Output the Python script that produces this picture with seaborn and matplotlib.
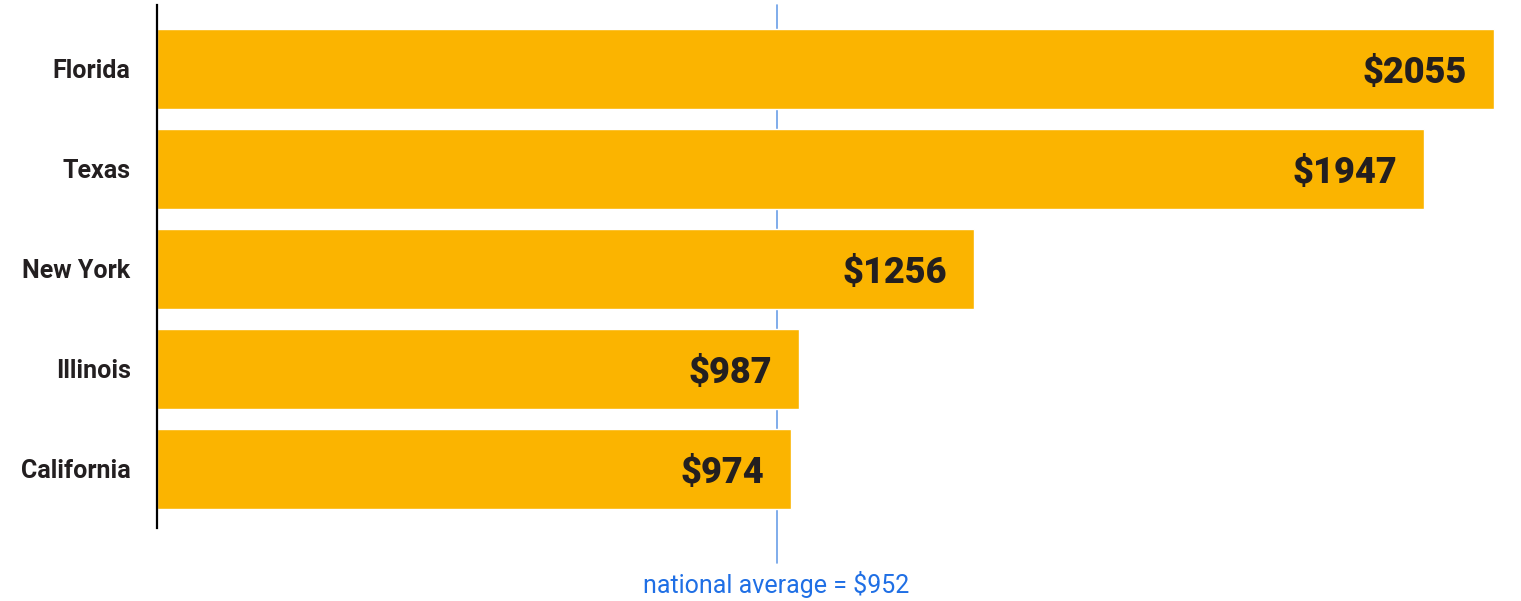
import matplotlib
matplotlib.use('Agg')
import pandas as pd
import seaborn as sns
import matplotlib.pyplot as plt

states = ['Florida', 'Texas', 'New York', 'Illinois', 'California']
costs = [2055, 1947, 1256, 987, 974]
national_avg = 952

df = pd.DataFrame({'state': states, 'cost': costs})

sns.set_theme(style='white')
plt.rcParams['font.family'] = ['Roboto', 'DejaVu Sans']

fig = plt.figure(figsize=(15.21, 6.01), dpi=100)
ax = fig.add_axes([157 / 1521, (601 - 528) / 601, (1521 - 157) / 1521, 523 / 601])

ax.axvline(national_avg, ymin=-0.067, ymax=1, color='#6a9ee8', lw=1.2, clip_on=False, zorder=0)
sns.barplot(data=df, x='cost', y='state', color='#fbb400', saturation=1, width=0.8, ax=ax, zorder=2)

for i, v in enumerate(costs):
    ax.annotate(f'${v}', xy=(v, i), xytext=(-19.5, -3), textcoords='offset points',
                ha='right', va='center', fontsize=26, fontweight='black', color='#231f20', zorder=3)

ax.annotate(f'national average = ${national_avg}', xy=(national_avg, 0), xycoords=('data', 'axes fraction'),
            xytext=(0, -40.5), textcoords='offset points', ha='center', va='center',
            fontsize=18, color='#1f6fe5', annotation_clip=False)

ax.set_xlim(0, 2096)
ax.set_ylim(4.595, -0.635)
ax.set_xlabel('')
ax.set_ylabel('')
ax.set_xticks([])
for s in ['top', 'right', 'bottom']:
    ax.spines[s].set_visible(False)
ax.spines['left'].set_color('black')
ax.spines['left'].set_linewidth(1.6)
ax.tick_params(axis='y', length=0, pad=19)
for lbl in ax.get_yticklabels():
    lbl.set_fontsize(18)
    lbl.set_fontweight('bold')
    lbl.set_color('#231f20')

fig.savefig('out.png', dpi=100)
